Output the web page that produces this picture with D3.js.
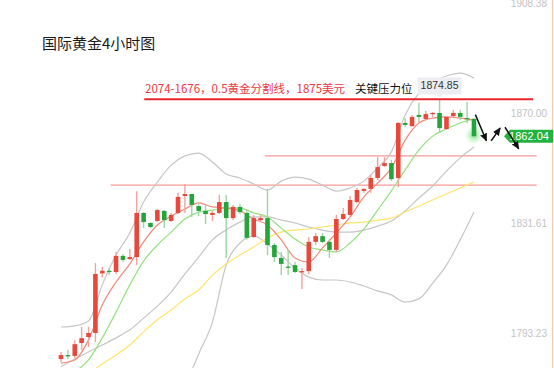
<!DOCTYPE html>
<html><head><meta charset="utf-8">
<script src="https://cdn.jsdelivr.net/npm/d3@7/dist/d3.min.js"></script>
<style>
body{margin:0;background:#fff;}
svg{display:block;}
</style>
</head><body>
<svg id="chart" width="554" height="368"></svg>
<script>
// ---------- data ----------
const opens = [1784.3,1785.7,1785.4,1789.9,1792.0,1793.4,1814.2,1815.1,1814.7,1820.3,
  1819.2,1819.9,1835.3,1831.8,1832.5,1836.0,1832.5,1835.3,1841.2,1841.9,
  1837.7,1836.0,1834.6,1835.3,1839.1,1833.5,1837.4,1835.3,1826.9,1832.8,
  1833.5,1824.1,1819.6,1816.6,1817.1,1814.7,1815.0,1825.2,1827.2,1825.2,
  1822.4,1833.2,1834.6,1839.1,1843.0,1843.7,1847.5,1851.7,1852.7,1847.5,
  1866.7,1865.6,1869.5,1868.1,1869.8,1870.2,1864.6,1869.1,1870.2,1868.4,
  1868.1];
const highs = [1786.8,1787.5,1790.9,1795.5,1795.5,1817.8,1816.4,1816.1,1821.7,1821.0,
  1822.7,1842.9,1835.6,1832.1,1836.7,1836.3,1835.3,1842.3,1845.4,1842.0,
  1838.4,1838.1,1836.0,1841.6,1841.6,1838.1,1838.4,1836.3,1834.6,1834.6,
  1843.6,1824.8,1821.7,1822.4,1818.2,1816.1,1826.9,1828.3,1828.3,1825.9,
  1834.6,1837.0,1841.2,1844.0,1843.7,1848.5,1854.8,1854.8,1853.8,1867.0,
  1868.4,1869.5,1873.7,1870.9,1870.5,1874.85,1869.1,1871.2,1871.2,1874.0,
  1868.4];
const lows = [1783.3,1784.3,1784.7,1787.5,1788.5,1790.2,1812.9,1813.6,1814.0,1818.2,
  1818.9,1817.1,1830.0,1830.0,1832.1,1830.0,1832.1,1834.9,1835.3,1833.9,
  1834.2,1831.4,1832.5,1834.9,1819.6,1832.8,1834.9,1825.9,1826.6,1832.1,
  1820.6,1818.2,1813.6,1813.6,1814.3,1808.8,1814.0,1824.1,1824.8,1819.6,
  1821.7,1832.8,1834.2,1838.8,1842.3,1842.3,1846.8,1851.3,1846.4,1844.3,
  1865.3,1865.3,1867.0,1867.7,1868.8,1863.2,1864.2,1868.8,1867.7,1866.7,
  1862.04];
const closes = [1785.7,1785.4,1789.5,1791.6,1793.4,1814.0,1815.1,1814.7,1820.3,1818.9,
  1819.9,1835.3,1832.1,1830.4,1836.3,1832.8,1834.6,1840.9,1841.9,1838.1,
  1836.0,1834.9,1835.3,1839.1,1833.5,1837.4,1835.6,1826.6,1833.5,1833.5,
  1824.1,1819.9,1817.5,1816.3,1814.7,1815.0,1825.2,1827.2,1825.2,1822.4,
  1833.2,1834.9,1839.8,1843.3,1843.7,1847.5,1851.3,1852.7,1847.1,1866.7,
  1866.0,1868.8,1868.8,1869.8,1870.2,1864.9,1868.8,1870.2,1868.8,1868.1,
  1862.04];

// indicator lines, read at every second candle
const lineIdx = [0,2,4,6,8,10,12,14,16,18,20,22,24,26,28,30,32,34,36,38,40,42,44,46,48,50,52,54,56,58,60];
const maRed = [1782.9,1784.0,1791.0,1803.2,1811.2,1817.5,1825.2,1831.1,1834.2,1836.7,1838.8,1837.4,1837.0,1836.0,1833.2,1831.1,
  1825.9,1819.6,1818.2,1823.1,1828.3,1833.9,1840.9,1845.7,1851.0,1860.7,1866.7,1868.4,1868.8,1868.4,1867.7];
const maGreen = [null,1779.8,1784.0,1791.7,1800.7,1810.2,1818.5,1824.1,1828.6,1833.2,1835.6,1836.3,1837.0,1837.0,1835.3,1833.9,
  1830.0,1826.2,1823.4,1822.4,1821.7,1824.8,1829.7,1836.3,1843.0,1850.3,1857.3,1862.1,1864.6,1866.7,1868.1];
const maYellow = [null,null,1779.1,1782.6,1785.7,1789.2,1793.8,1798.0,1801.4,1805.3,1808.4,1813.6,1817.5,1820.6,1823.4,1826.6,
  1828.6,1829.3,1829.7,1830.4,1831.1,1831.8,1832.1,1832.8,1833.5,1835.6,1837.7,1839.8,1841.9,1844.0,1846.1];
const bollUpper = [1795.5,1795.9,1797.6,1810.2,1820.6,1828.3,1839.1,1846.1,1852.0,1855.2,1856.2,1853.1,1848.9,1847.5,1845.4,1843.3,
  1846.4,1847.8,1847.1,1845.0,1842.9,1844.0,1846.4,1851.0,1856.6,1869.5,1877.1,1881.0,1883.1,1884.1,1882.4];
const bollMid = [1781.7,1784.3,1786.8,1789.2,1791.7,1794.5,1798.6,1802.8,1807.7,1814.0,1819.9,1825.9,1829.4,1832.1,1833.9,1833.9,
  1832.8,1831.8,1830.4,1829.3,1828.6,1828.6,1829.3,1830.7,1832.5,1836.0,1840.5,1844.7,1849.9,1854.5,1858.3];
const bollLower = [null,null,null,null,null,null,null,null,null,1774.4,1786.1,1797.2,1817.1,1824.8,1827.3,1824.5,
  1820.6,1816.1,1812.9,1811.9,1811.9,1811.2,1809.8,1808.1,1806.7,1804.2,1805.3,1810.8,1817.1,1825.9,1835.6];

const axisTicks = [1908.38, 1870.00, 1831.61, 1793.23];
const titleText = "国际黄金4小时图";
const noteRed = "2074-1676，0.5黄金分割线，1875美元";
const noteBlack = "关键压力位";
const keyLevel = 1875;
const supportLevels = [1855.2, 1845.0];
const highLabel = 1874.85;
const highIndex = 55;
const lastPrice = 1862.04;

// ---------- drawing ----------
const svg = d3.select("#chart");
const W = 554, H = 368;
const x = d3.scaleLinear().domain([0, 60]).range([61, 474]);
const y = d3.scaleLinear().domain([1793.23, 1908.38]).range([333.5, 3.5]);

const defs = svg.append("defs");
defs.append("clipPath").attr("id","plot").append("rect")
  .attr("x", 58).attr("y", 0).attr("width", 482).attr("height", H);
const rg = defs.append("radialGradient").attr("id","glow");
rg.append("stop").attr("offset","0%").attr("stop-color","#5bd65b").attr("stop-opacity",0.75);
rg.append("stop").attr("offset","55%").attr("stop-color","#8fe58f").attr("stop-opacity",0.35);
rg.append("stop").attr("offset","100%").attr("stop-color","#c8f5c8").attr("stop-opacity",0);
const mk = defs.append("marker").attr("id","arr").attr("viewBox","0 0 10 10")
  .attr("refX",8).attr("refY",5).attr("markerWidth",6).attr("markerHeight",6).attr("orient","auto");
mk.append("path").attr("d","M0,1 L9,5 L0,9 Z").attr("fill","#111");

svg.append("rect").attr("width",W).attr("height",H).attr("fill","#fff");

// right border line
svg.append("line").attr("x1",552.5).attr("x2",552.5).attr("y1",0).attr("y2",H)
  .attr("stroke","#f6c9a8").attr("stroke-width",1);

// y axis labels
const axisG = svg.append("g").attr("transform","translate(549,0)")
  .call(d3.axisLeft(y).tickValues(axisTicks).tickFormat(d3.format(".2f")).tickSize(0).tickPadding(2));
axisG.select(".domain").remove();
axisG.selectAll("text").attr("fill","#c3c3c3").style("font-family","'Liberation Sans', Arial, sans-serif").style("font-size","10px");

const plot = svg.append("g").attr("clip-path","url(#plot)");

// horizontal levels
const hLines = [
  {v: supportLevels[1], x1: 7.2, x2: 69.1},
  {v: supportLevels[0], x1: 29.6, x2: 69.1}
];
plot.selectAll(".sup").data(hLines).enter().append("line")
  .attr("x1", d => x(d.x1)).attr("x2", d => x(d.x2))
  .attr("y1", d => y(d.v)).attr("y2", d => y(d.v))
  .attr("stroke","#f27f7f").attr("stroke-opacity",0.8).attr("stroke-width",1.3);

// indicator lines
const mkLine = arr => d3.line().defined((d,i)=>arr[i]!=null)
  .x((d,i)=>x(lineIdx[i])).y((d,i)=>y(arr[i])).curve(d3.curveMonotoneX)(arr);
const lines = [
  {a: bollUpper, c:"#c6c6c6", w:1.2},
  {a: bollMid, c:"#c6c6c6", w:1.2},
  {a: bollLower, c:"#c6c6c6", w:1.2},
  {a: maYellow, c:"#ffe46a", w:1.2},
  {a: maGreen, c:"#93e27e", w:1.2},
  {a: maRed, c:"#f08a7a", w:1.2}
];
plot.selectAll(".ind").data(lines).enter().append("path")
  .attr("d", d => mkLine(d.a)).attr("fill","none")
  .attr("stroke", d => d.c).attr("stroke-width", d => d.w);

// glow on last candle
plot.append("circle").attr("cx", x(60)).attr("cy", y(lastPrice)-1).attr("r", 10).attr("fill","url(#glow)");

// candles
const candles = opens.map((o,i)=>({i, o, h:highs[i], l:lows[i], c:closes[i]}));
const up = "#e8473b", dn = "#24a53a", upW = "#f3a39b", dnW = "#9bd6a0";
const cg = plot.selectAll(".cdl").data(candles).enter().append("g");
cg.append("line")
  .attr("x1", d=>x(d.i)).attr("x2", d=>x(d.i))
  .attr("y1", d=>y(d.h)).attr("y2", d=>y(d.l))
  .attr("stroke", d=> d.c>=d.o ? upW : dnW).attr("stroke-width",1.4);
cg.append("rect")
  .attr("x", d=>x(d.i)-2.3).attr("width",4.6)
  .attr("y", d=>y(Math.max(d.o,d.c)))
  .attr("height", d=>Math.max(1.3, Math.abs(y(d.o)-y(d.c))))
  .attr("fill", d=> d.c>=d.o ? up : dn);

// key resistance line
svg.append("line").attr("x1", x(12.1)).attr("x2", x(68.6))
  .attr("y1", y(keyLevel)).attr("y2", y(keyLevel))
  .attr("stroke","#e8262b").attr("stroke-width",2);

// high label
const hx = x(highIndex), hy = y(highLabel);
svg.append("path")
  .attr("d", `M${hx-22},${hy-22} H${hx+22} V${hy-5} H${hx+3} L${hx},${hy-2} L${hx-3},${hy-5} H${hx-22} Z`)
  .attr("fill","#eceef1");
svg.append("text").attr("x",hx).attr("y",hy-13).attr("text-anchor","middle").attr("dominant-baseline","middle")
  .attr("fill","#333").style("font-family","'Liberation Sans', Arial, sans-serif").style("font-size","10.5px")
  .text(highLabel.toFixed(2));

// last price label
const py = y(lastPrice);
svg.append("path")
  .attr("d", `M504,${py} L510,${py-6.5} H553 V${py+6.5} H510 Z`).attr("fill","#22b23f");
svg.append("text").attr("x",529).attr("y",py).attr("text-anchor","middle").attr("dominant-baseline","central")
  .attr("fill","#fff").style("font-family","'Liberation Sans', Arial, sans-serif").style("font-size","11px")
  .text(lastPrice.toFixed(2));

// arrows
const arrows = [
  [[60.2, 1869.6],[61.8, 1860.5]],
  [[62.5, 1860.5],[63.8, 1864.9]],
  [[64.5, 1865.2],[66.5, 1857.7]]
];
svg.selectAll(".arw").data(arrows).enter().append("line")
  .attr("x1", d=>x(d[0][0])).attr("y1", d=>y(d[0][1]))
  .attr("x2", d=>x(d[1][0])).attr("y2", d=>y(d[1][1]))
  .attr("stroke","#111").attr("stroke-width",1.5).attr("marker-end","url(#arr)");

// texts
svg.append("text").attr("x",42).attr("y",49)
  .style("font-family","'Noto Sans CJK SC', sans-serif").style("font-size","15px").attr("fill","#1a1a1a")
  .text(titleText);
svg.append("text").attr("x",145).attr("y",92.5)
  .style("font-family","'Noto Sans CJK SC', sans-serif").style("font-size","11.5px").attr("fill","#ea3a3f")
  .text(noteRed);
svg.append("text").attr("x",355).attr("y",92.5)
  .style("font-family","'Noto Sans CJK SC', sans-serif").style("font-size","11.5px").attr("fill","#111")
  .text(noteBlack);
</script>
</body></html>
